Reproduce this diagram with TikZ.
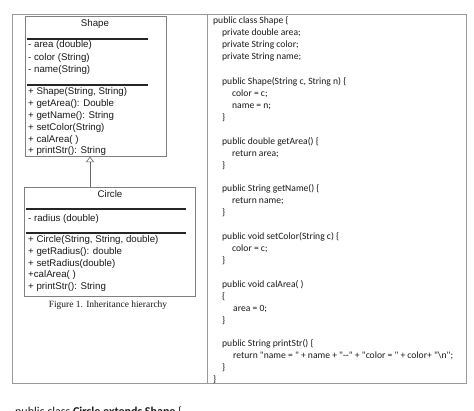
\documentclass[tikz,border=0pt]{standalone}
\usepackage{fontspec}
\setmainfont{Liberation Sans}
\newfontfamily\codefont[Ligatures=TeXOff]{Carlito}
\newfontfamily\capfont{Liberation Serif}
\usetikzlibrary{arrows.meta}
\begin{document}
\begin{tikzpicture}[x=1pt,y=-1pt,
  uml/.style={anchor=base west,inner sep=0pt,font=\fontsize{9.7}{11}\selectfont,text=black!90},
  umltitle/.style={anchor=base,inner sep=0pt,font=\fontsize{9.7}{11}\selectfont,text=black!90},
  code/.style={anchor=base west,inner sep=0pt,font=\codefont\fontsize{9.6}{11}\selectfont,text=black!90},
  classbox/.style={draw=black!50,line width=0.6pt,inner sep=0pt},
  sep/.style={draw=black!85,line width=1.1pt},
  frame/.style={draw=black!40,line width=0.7pt}]
\useasboundingbox (0,0) rectangle (474,410);
\fill[white] (0,0) rectangle (474,410);
% outer table
\draw[frame] (12,14) rectangle (466,383);
\draw[frame] (207,14) -- (207,383);
% Shape class
\node[classbox,minimum width=141pt,minimum height=140pt,anchor=north west] (shapebox) at (25,16) {};
\node[umltitle] (shapet) at (95,26) {Shape};
\draw[sep] (27,39) -- (148,39);
\node[uml] (sa1) at (28,47.5) {- area (double)};
\node[uml] (sa2) at (28,60) {- color (String)};
\node[uml] (sa3) at (28,72.3) {- name(String)};
\draw[sep] (27,85) -- (148,85);
\node[uml] (sm1) at (28,94.3) {+ Shape(String, String)};
\node[uml] (sm2) at (28,106.5) {+ getArea(): Double};
\node[uml] (sm3) at (28,118.6) {+ getName(): String};
\node[uml] (sm4) at (28,130.6) {+ setColor(String)};
\node[uml] (sm5) at (28,142.3) {+ calArea( )};
\node[uml] (sm6) at (28,153.8) {+ printStr(): String};
% Circle class
\node[classbox,minimum width=171pt,minimum height=109pt,anchor=north west] (circlebox) at (24,187) {};
\node[umltitle] (circlet) at (110,197.3) {Circle};
\draw[sep] (26,209) -- (186,209);
\node[uml] (ca1) at (28,221) {- radius (double)};
\draw[sep] (26,233) -- (186,233);
\node[uml] (cm1) at (28,242.7) {+ Circle(String, String, double)};
\node[uml] (cm2) at (28,254.4) {+ getRadius(): double};
\node[uml] (cm3) at (28,266) {+ setRadius(double)};
\node[uml] (cm4) at (28,277.6) {+calArea( )};
\node[uml] (cm5) at (28,289.3) {+ printStr(): String};
% inheritance arrow
\draw[draw=black!60,line width=0.6pt,-{Triangle[open,length=5.5pt,width=8pt]}] (circlebox.north west -| 90,0) -- (shapebox.south west -| 90,0);
% caption
\node[anchor=base,inner sep=0pt,font=\capfont\fontsize{9.5}{11}\selectfont,text=black!90] (caption) at (108,307.5) {Figure 1. Inheritance hierarchy};
% code
\begin{scope}[yshift=-3.3pt]
\node[code] (c1) at (213,20) {public class Shape \{};
\node[code] (c2) at (222,32) {private double area;};
\node[code] (c3) at (222,44) {private String color;};
\node[code] (c4) at (222,56) {private String name;};
\node[code] (c5) at (222,81) {public Shape(String c, String n) \{};
\node[code] (c6) at (232,93) {color = c;};
\node[code] (c7) at (232,105) {name = n;};
\node[code] (c8) at (222,117) {\}};
\node[code] (c9) at (222,141) {public double getArea() \{};
\node[code] (c10) at (232,153) {return area;};
\node[code] (c11) at (222,165) {\}};
\node[code] (c12) at (222,188) {public String getName() \{};
\node[code] (c13) at (232,200) {return name;};
\node[code] (c14) at (222,212) {\}};
\node[code] (c15) at (222,236) {public void setColor(String c) \{};
\node[code] (c16) at (232,248) {color = c;};
\node[code] (c17) at (222,260) {\}};
\node[code] (c18) at (222,284) {public void calArea( )};
\node[code] (c19) at (222,296) {\{};
\node[code] (c20) at (233,308) {area = 0;};
\node[code] (c21) at (222,320) {\}};
\node[code] (c22) at (222,343) {public String printStr() \{};
\node[code] (c23) at (233,355) {return "name = " + name + "--" + "color = " + color+ "\textbackslash n";};
\node[code] (c24) at (222,367) {\}};
\node[code] (c25) at (213,379) {\}};
\end{scope}
% bottom partially visible line (cut by the picture's lower edge, as in the reference)
\node[anchor=base west,inner sep=0pt,font=\codefont\fontsize{12}{14}\selectfont,text=black!90] (c26) at (15,415) {public class \textbf{Circle extends Shape} \{};
\end{tikzpicture}
\end{document}
